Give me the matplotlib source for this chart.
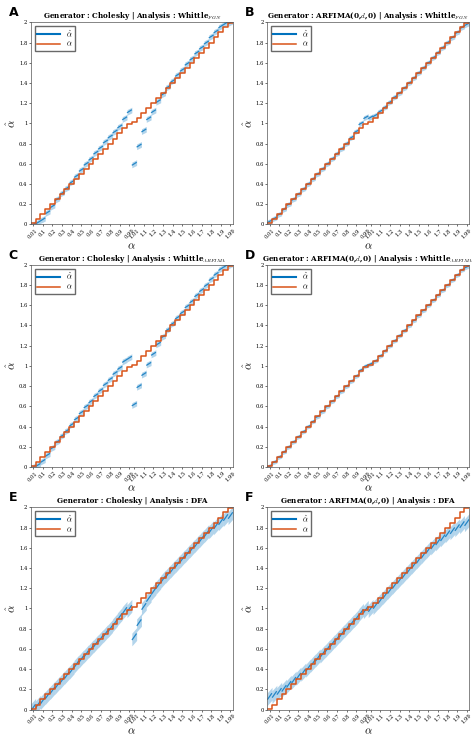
import numpy as np
import matplotlib.pyplot as plt

plt.rcParams['font.family'] = ['DejaVu Serif']
plt.rcParams['mathtext.fontset'] = 'cm'

# alpha levels of the generator (staircase)
levels = [0.01, 0.05, 0.10, 0.15, 0.20, 0.25, 0.30, 0.35, 0.40, 0.45, 0.50,
          0.55, 0.60, 0.65, 0.70, 0.75, 0.80, 0.85, 0.90, 0.95, 0.99,
          1.01, 1.05, 1.10, 1.15, 1.20, 1.25, 1.30, 1.35, 1.40, 1.45, 1.50,
          1.55, 1.60, 1.65, 1.70, 1.75, 1.80, 1.85, 1.90, 1.95, 1.99]
tick_labels = ['0.01', '0.1', '0.2', '0.3', '0.4', '0.5', '0.6', '0.7', '0.8', '0.9', '0.99',
               '1.01', '1.1', '1.2', '1.3', '1.4', '1.5', '1.6', '1.7', '1.8', '1.9', '1.99']
tick_levels = [0.01, 0.10, 0.20, 0.30, 0.40, 0.50, 0.60, 0.70, 0.80, 0.90, 0.99,
               1.01, 1.10, 1.20, 1.30, 1.40, 1.50, 1.60, 1.70, 1.80, 1.90, 1.99]

# mean estimates per level
mean_A = [0.00, 0.02, 0.05, 0.12, 0.18, 0.25, 0.31, 0.36, 0.42, 0.48, 0.54,
          0.60, 0.65, 0.71, 0.76, 0.82, 0.87, 0.92, 0.97, 1.05, 1.12,
          0.60, 0.78, 0.93, 1.05, 1.12, 1.22, 1.29, 1.36, 1.42, 1.48, 1.53,
          1.59, 1.64, 1.70, 1.75, 1.80, 1.86, 1.91, 1.96, 1.99, 2.00]
mean_B = [0.03, 0.06, 0.10, 0.15, 0.20, 0.25, 0.30, 0.35, 0.40, 0.45, 0.50,
          0.55, 0.60, 0.65, 0.70, 0.75, 0.80, 0.86, 0.92, 1.00, 1.06,
          1.06, 1.08, 1.12, 1.16, 1.21, 1.26, 1.30, 1.35, 1.40, 1.45, 1.50,
          1.55, 1.60, 1.65, 1.70, 1.75, 1.80, 1.85, 1.90, 1.95, 1.98]
mean_C = [0.00, 0.02, 0.06, 0.12, 0.19, 0.25, 0.31, 0.36, 0.42, 0.48, 0.54,
          0.60, 0.65, 0.71, 0.76, 0.82, 0.87, 0.93, 0.98, 1.05, 1.08,
          0.62, 0.80, 0.92, 1.02, 1.12, 1.22, 1.29, 1.36, 1.42, 1.48, 1.53,
          1.59, 1.64, 1.70, 1.75, 1.80, 1.86, 1.91, 1.96, 1.99, 2.00]
mean_D = [0.01, 0.05, 0.10, 0.15, 0.20, 0.25, 0.30, 0.35, 0.40, 0.45, 0.50,
          0.55, 0.60, 0.65, 0.70, 0.75, 0.80, 0.85, 0.90, 0.96, 1.00,
          1.02, 1.05, 1.10, 1.15, 1.20, 1.25, 1.30, 1.35, 1.40, 1.45, 1.50,
          1.55, 1.60, 1.65, 1.70, 1.75, 1.80, 1.85, 1.90, 1.95, 1.98]
mean_E = [0.02, 0.05, 0.09, 0.14, 0.19, 0.24, 0.29, 0.34, 0.39, 0.45, 0.50,
          0.55, 0.60, 0.65, 0.70, 0.75, 0.80, 0.86, 0.92, 0.98, 1.00,
          0.72, 0.86, 1.02, 1.10, 1.17, 1.23, 1.29, 1.34, 1.39, 1.44, 1.49,
          1.54, 1.59, 1.64, 1.69, 1.74, 1.78, 1.82, 1.86, 1.90, 1.92]
mean_F = [0.13, 0.15, 0.18, 0.21, 0.25, 0.29, 0.33, 0.37, 0.41, 0.46, 0.51,
          0.55, 0.60, 0.65, 0.70, 0.75, 0.80, 0.85, 0.90, 0.96, 0.99,
          1.00, 1.03, 1.08, 1.13, 1.18, 1.23, 1.28, 1.33, 1.38, 1.43, 1.48,
          1.53, 1.58, 1.62, 1.66, 1.70, 1.74, 1.77, 1.80, 1.83, 1.85]
# half-width of the estimate cloud per panel
spread_A = 0.04
spread_B = 0.035
spread_C = 0.04
spread_D = 0.03
spread_E = 0.09
spread_F = 0.09

titles = [r'Generator : Cholesky | Analysis : Whittle$_{FGN}$',
          r'Generator : ARFIMA(0,$d$,0) | Analysis : Whittle$_{FGN}$',
          r'Generator : Cholesky | Analysis : Whittle$_{ARFIMA}$',
          r'Generator : ARFIMA(0,$d$,0) | Analysis : Whittle$_{ARFIMA}$',
          r'Generator : Cholesky | Analysis : DFA',
          r'Generator : ARFIMA(0,$d$,0) | Analysis : DFA']
means = [mean_A, mean_B, mean_C, mean_D, mean_E, mean_F]
spreads = [spread_A, spread_B, spread_C, spread_D, spread_E, spread_F]
letters = ['A', 'B', 'C', 'D', 'E', 'F']

blue = '#0072BD'
orange = '#D95319'

fig, axes = plt.subplots(3, 2, figsize=(4.74, 7.43), dpi=100)
plt.subplots_adjust(left=0.065, right=0.99, top=0.97, bottom=0.045, wspace=0.17, hspace=0.2)

n = len(levels)
xs = np.arange(n + 1)
for k, ax in enumerate(axes.flat):
    m = np.array(means[k])
    s = spreads[k]
    # blue cloud: each level is one block of samples
    for i in range(n):
        ax.fill_between([i, i + 1], [m[i] - s, m[i] - s * 0.4], [m[i] + s * 0.4, m[i] + s],
                        color=blue, alpha=0.3, lw=0)
        ax.plot([i + 0.1, i + 0.9], [m[i] - s * 0.3, m[i] + s * 0.3], color=blue, lw=0.9, alpha=0.8)
    ax.plot([], [], color=blue, lw=1.5, label=r'$\hat{\alpha}$')
    ax.step(xs, list(levels) + [levels[-1]], where='post', color=orange, lw=1.1, label=r'$\alpha$')
    ax.set_xlim(0, n)
    ax.set_ylim(0, 2)
    ax.set_xticks([levels.index(t) + 0.5 for t in tick_levels])
    ax.set_xticklabels(tick_labels, rotation=45, fontsize=3.8)
    ax.set_yticks(np.arange(0, 2.01, 0.2))
    ax.set_yticklabels(['0', '0.2', '0.4', '0.6', '0.8', '1', '1.2', '1.4', '1.6', '1.8', '2'], fontsize=3.8)
    ax.tick_params(length=1.5, width=0.4, pad=1)
    for sp in ax.spines.values():
        sp.set_linewidth(0.5)
        sp.set_color('#555555')
    ax.set_title(titles[k], fontsize=5.2, fontweight='bold', pad=3)
    ax.set_xlabel(r'$\alpha$', fontsize=8, labelpad=1)
    ax.set_ylabel(r'$\hat{\alpha}$', fontsize=8, labelpad=1)
    ax.legend(loc='upper left', fontsize=5.5, handlelength=3, frameon=True,
              fancybox=False, edgecolor='#444444', borderpad=0.3, labelspacing=0.2)
    ax.text(-0.11, 1.03, letters[k], transform=ax.transAxes, fontsize=9,
            fontweight='bold', family='DejaVu Sans')

fig.savefig('out.png', dpi=100)
